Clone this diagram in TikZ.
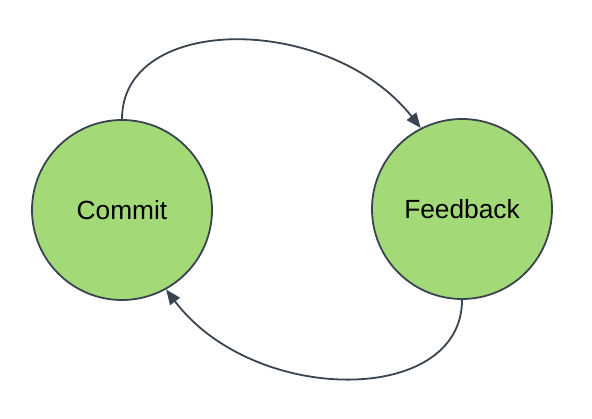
\documentclass[tikz,border=0pt]{standalone}
\usepackage{fontspec}
\setmainfont{Liberation Sans}
\usetikzlibrary{arrows.meta}
\definecolor{stategreen}{HTML}{A3D977}
\definecolor{edgegray}{HTML}{3A4450}
\tikzset{
  state/.style={circle, draw=edgegray, line width=1.8pt, fill=stategreen, minimum size=180pt, inner sep=0pt, font=\fontsize{26.3}{30}\selectfont},
  flow/.style={draw=edgegray, line width=1.8pt, -{Triangle[length=15pt,width=12pt]}}
}
\begin{document}
\begin{tikzpicture}[x=1pt,y=-1pt]
\useasboundingbox (0,0) rectangle (592,419);
\node[state] (c) at (122,210) {Commit};
\node[state] (f) at (462,209) {Feedback};
\draw[flow] (c.north) .. controls (122,13) and (330,13) .. (f.117);
\draw[flow] (f.south) .. controls (462,406) and (254,406) .. (c.-61);
\end{tikzpicture}
\end{document}
